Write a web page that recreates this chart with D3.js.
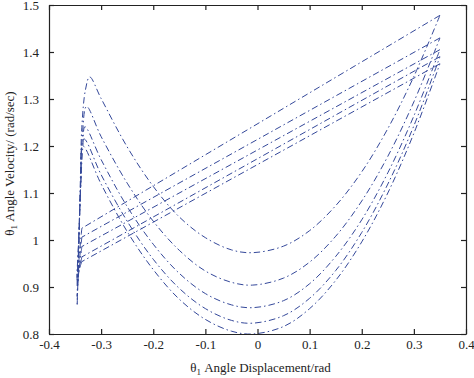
<!DOCTYPE html>
<meta charset="utf-8">
<style>
  body { margin: 0; background: #fff; }
  .axis path, .axis line { stroke: #222; stroke-width: 1.2px; }
  .loops path {
    fill: none;
    stroke: #34489a;
    stroke-width: 1px;
    stroke-dasharray: 6.5, 3, 1.5, 3;
  }
</style>

<svg width="474" height="378"></svg>
<script src="https://cdn.jsdelivr.net/npm/d3@7"></script>

<script>
const svg = d3.select("svg");
const serif = "'Liberation Serif', 'Times New Roman', serif";

// tick labels
const xTicks = [-0.4, -0.3, -0.2, -0.1, 0, 0.1, 0.2, 0.3, 0.4];
const yTicks = [0.8, 0.9, 1, 1.1, 1.2, 1.3, 1.4, 1.5];

// straight return segments: [right end, left end]
const ramp1 = [[0.35, 1.478], [-0.337, 1.025]];
const ramp2 = [[0.35, 1.430], [-0.337, 1.006]];
const ramp3 = [[0.35, 1.405], [-0.337, 0.986]];
const ramp4 = [[0.35, 1.390], [-0.337, 0.964]];
const ramp5 = [[0.35, 1.375], [-0.337, 0.954]];

// curved part of each loop (displacement, velocity)
const loop1 = [[-0.337, 1.025], [-0.343, 0.95], [-0.346, 0.86], [-0.343, 0.98], [-0.340, 1.12],
  [-0.337, 1.24], [-0.330, 1.32], [-0.322, 1.347], [-0.30, 1.301], [-0.25, 1.198], [-0.20, 1.114],
  [-0.15, 1.049], [-0.10, 1.005], [-0.05, 0.979], [-0.01, 0.973], [0.05, 0.987], [0.10, 1.020],
  [0.15, 1.073], [0.20, 1.145], [0.25, 1.237], [0.30, 1.348], [0.35, 1.478]];
const loop2 = [[-0.337, 1.006], [-0.343, 0.94], [-0.346, 0.88], [-0.343, 0.98], [-0.340, 1.10],
  [-0.336, 1.22], [-0.328, 1.284], [-0.30, 1.220], [-0.25, 1.121], [-0.20, 1.040], [-0.15, 0.978],
  [-0.10, 0.934], [-0.05, 0.910], [-0.01, 0.904], [0.05, 0.919], [0.10, 0.953], [0.15, 1.008],
  [0.20, 1.083], [0.25, 1.178], [0.30, 1.294], [0.35, 1.430]];
const loop3 = [[-0.337, 0.986], [-0.343, 0.93], [-0.346, 0.90], [-0.343, 0.99], [-0.339, 1.12],
  [-0.335, 1.20], [-0.331, 1.241], [-0.30, 1.171], [-0.25, 1.071], [-0.20, 0.991], [-0.15, 0.929],
  [-0.10, 0.886], [-0.05, 0.862], [-0.01, 0.856], [0.05, 0.871], [0.10, 0.907], [0.15, 0.965],
  [0.20, 1.043], [0.25, 1.143], [0.30, 1.264], [0.35, 1.405]];
const loop4 = [[-0.337, 0.964], [-0.343, 0.93], [-0.346, 0.91], [-0.343, 1.0], [-0.339, 1.12],
  [-0.333, 1.215], [-0.30, 1.139], [-0.25, 1.040], [-0.20, 0.959], [-0.15, 0.897], [-0.10, 0.854],
  [-0.05, 0.829], [-0.01, 0.823], [0.05, 0.839], [0.10, 0.876], [0.15, 0.935], [0.20, 1.016],
  [0.25, 1.119], [0.30, 1.243], [0.35, 1.390]];
const loop5 = [[-0.337, 0.954], [-0.343, 0.935], [-0.346, 0.92], [-0.343, 1.0], [-0.339, 1.12],
  [-0.335, 1.200], [-0.30, 1.119], [-0.25, 1.018], [-0.20, 0.937], [-0.15, 0.874], [-0.10, 0.831],
  [-0.05, 0.806], [-0.01, 0.800], [0.05, 0.816], [0.10, 0.854], [0.15, 0.914], [0.20, 0.996],
  [0.25, 1.100], [0.30, 1.227], [0.35, 1.375]];

const mLeft = 49, mRight = 466, mTop = 5, mBottom = 334;

const x = d3.scaleLinear().domain([-0.4, 0.4]).range([mLeft, mRight]);
const y = d3.scaleLinear().domain([0.8, 1.5]).range([mBottom, mTop]);

svg.append("clipPath").attr("id", "plot")
  .append("rect")
  .attr("x", mLeft).attr("y", mTop)
  .attr("width", mRight - mLeft).attr("height", mBottom - mTop);

const straight = d3.line().x(d => x(d[0])).y(d => y(d[1]));
const smooth = d3.line().x(d => x(d[0])).y(d => y(d[1])).curve(d3.curveCatmullRom.alpha(0.5));

const g = svg.append("g")
  .attr("class", "loops")
  .attr("clip-path", "url(#plot)");

g.selectAll(".ramp")
  .data([ramp1, ramp2, ramp3, ramp4, ramp5])
  .enter().append("path")
  .attr("class", "ramp")
  .attr("d", straight);

g.selectAll(".curve")
  .data([loop1, loop2, loop3, loop4, loop5])
  .enter().append("path")
  .attr("class", "curve")
  .attr("d", smooth);

// axes, ticks point inward like matlab
const fmt = d => String(d);

svg.append("g").attr("class", "axis")
  .attr("transform", `translate(0,${mBottom})`)
  .call(d3.axisBottom(x).tickValues(xTicks).tickFormat(fmt).tickSizeInner(-5).tickSizeOuter(0).tickPadding(6))
  .attr("font-family", serif).attr("font-size", 13)
  .call(a => a.selectAll("text").attr("fill", "#222"));

svg.append("g").attr("class", "axis")
  .attr("transform", `translate(${mLeft},0)`)
  .call(d3.axisLeft(y).tickValues(yTicks).tickFormat(fmt).tickSizeInner(-5).tickSizeOuter(0).tickPadding(10))
  .attr("font-family", serif).attr("font-size", 13)
  .call(a => a.selectAll("text").attr("fill", "#222"));

svg.append("g").attr("class", "axis")
  .attr("transform", `translate(0,${mTop})`)
  .call(d3.axisTop(x).tickValues(xTicks).tickFormat("").tickSizeInner(-5).tickSizeOuter(0));

svg.append("g").attr("class", "axis")
  .attr("transform", `translate(${mRight},0)`)
  .call(d3.axisRight(y).tickValues(yTicks).tickFormat("").tickSizeInner(-5).tickSizeOuter(0));

// axis titles
const xt = svg.append("text")
  .attr("x", (mLeft + mRight) / 2 + 3)
  .attr("y", 372)
  .attr("text-anchor", "middle")
  .attr("font-family", serif)
  .attr("font-size", 13)
  .attr("fill", "#222");
xt.append("tspan").text("θ");
xt.append("tspan").attr("font-size", 9).attr("dy", 3).text("1");
xt.append("tspan").attr("dy", -3).text(" Angle Displacement/rad");

const yt = svg.append("text")
  .attr("transform", `translate(14,${(mTop + mBottom) / 2 - 6}) rotate(-90)`)
  .attr("text-anchor", "middle")
  .attr("font-family", serif)
  .attr("font-size", 13)
  .attr("fill", "#222");
yt.append("tspan").text("θ");
yt.append("tspan").attr("font-size", 9).attr("dy", 3).text("1");
yt.append("tspan").attr("dy", -3).text(" Angle Velocity/ (rad/sec)");
</script>
